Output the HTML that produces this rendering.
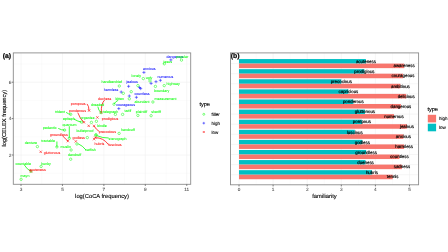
<!DOCTYPE html><html><head><meta charset="utf-8"><title>figure</title>
<style>html,body{margin:0;padding:0;background:#fff}svg{display:block}text{text-rendering:geometricPrecision;font-family:"Liberation Sans",Arial,Helvetica,sans-serif}</style></head><body>
<svg width="448" height="252" viewBox="0 0 448 252">
<rect width="448" height="252" fill="#fff"/>
<g stroke="#efefef" fill="none">
<line x1="41.72" x2="41.72" y1="52.9" y2="184.3" stroke-width="0.27"/>
<line x1="83.16" x2="83.16" y1="52.9" y2="184.3" stroke-width="0.27"/>
<line x1="124.60" x2="124.60" y1="52.9" y2="184.3" stroke-width="0.27"/>
<line x1="166.04" x2="166.04" y1="52.9" y2="184.3" stroke-width="0.27"/>
<line y1="173.20" y2="173.20" x1="13.3" x2="190.7" stroke-width="0.27"/>
<line y1="136.80" y2="136.80" x1="13.3" x2="190.7" stroke-width="0.27"/>
<line y1="100.40" y2="100.40" x1="13.3" x2="190.7" stroke-width="0.27"/>
<line y1="64.00" y2="64.00" x1="13.3" x2="190.7" stroke-width="0.27"/>
<line x1="21.00" x2="21.00" y1="52.9" y2="184.3" stroke-width="0.55"/>
<line x1="62.44" x2="62.44" y1="52.9" y2="184.3" stroke-width="0.55"/>
<line x1="103.88" x2="103.88" y1="52.9" y2="184.3" stroke-width="0.55"/>
<line x1="145.32" x2="145.32" y1="52.9" y2="184.3" stroke-width="0.55"/>
<line x1="186.76" x2="186.76" y1="52.9" y2="184.3" stroke-width="0.55"/>
<line y1="155.00" y2="155.00" x1="13.3" x2="190.7" stroke-width="0.55"/>
<line y1="118.60" y2="118.60" x1="13.3" x2="190.7" stroke-width="0.55"/>
<line y1="82.20" y2="82.20" x1="13.3" x2="190.7" stroke-width="0.55"/>
</g>
<g fill="none" stroke-width="0.75" stroke-linecap="round">
<path d="M117.9,100.4 Q115.5,101.5 114.3,103.6" stroke="#00FF00"/>
<path d="M104.3,100.4 Q101.0,103.5 101.3,112.2" stroke="#FF0000"/>
<path d="M97.9,107.0 Q98.5,111.2 100.9,112.4" stroke="#00FF00"/>
<path d="M87.3,104.2 Q89.0,106.0 89.0,110.2" stroke="#FF0000"/>
<path d="M77.9,113.0 Q80.0,119.0 83.7,122.1" stroke="#FF0000"/>
<path d="M66.4,112.6 Q68.5,114.2 70.3,114.3" stroke="#00FF00"/>
<path d="M74.3,119.3 Q78.0,121.5 81.0,122.0" stroke="#00FF00"/>
<path d="M94.3,126.5 Q96.5,129.8 98.6,131.0" stroke="#FF0000"/>
<path d="M69.3,126.6 L69.3,137.9" stroke="#00FF00"/>
<path d="M58.6,128.6 Q61.5,130.2 64.2,130.1" stroke="#00FF00"/>
<path d="M97.0,135.8 Q103.0,138.2 108.3,138.0" stroke="#00FF00"/>
<path d="M95.6,137.7 Q103.3,137.5 108.3,144.4" stroke="#FF0000"/>
<path d="M62.9,136.1 Q65.5,139.2 67.7,140.9" stroke="#FF0000"/>
<path d="M78.6,144.0 Q82.5,145.5 85.7,149.7" stroke="#00FF00"/>
<path d="M56.9,141.9 L56.9,146.5" stroke="#00FF00"/>
<path d="M24.3,165.0 Q27.0,169.5 30.7,171.2" stroke="#00FF00"/>
</g>
<path d="M169.34,59.9H172.46M170.9,58.34V61.46" fill="none" stroke="#0000FF" stroke-width="0.5"/>
<circle cx="181.5" cy="60.1" r="1.2" fill="none" stroke="#00FF00" stroke-width="0.5"/>
<circle cx="164.3" cy="63.8" r="1.2" fill="none" stroke="#00FF00" stroke-width="0.5"/>
<path d="M142.34,72.4H145.46M143.9,70.84V73.96" fill="none" stroke="#0000FF" stroke-width="0.5"/>
<circle cx="143.3" cy="78.6" r="1.2" fill="none" stroke="#00FF00" stroke-width="0.5"/>
<circle cx="150.0" cy="81.0" r="1.2" fill="none" stroke="#00FF00" stroke-width="0.5"/>
<path d="M158.84,80.3H161.96M160.4,78.74V81.86" fill="none" stroke="#0000FF" stroke-width="0.5"/>
<path d="M154.44,81.7H157.56M156.0,80.14V83.26" fill="none" stroke="#0000FF" stroke-width="0.5"/>
<path d="M149.54,83.4H152.66M151.1,81.84V84.96" fill="none" stroke="#0000FF" stroke-width="0.5"/>
<circle cx="164.2" cy="85.6" r="1.2" fill="none" stroke="#00FF00" stroke-width="0.5"/>
<circle cx="155.4" cy="86.4" r="1.2" fill="none" stroke="#00FF00" stroke-width="0.5"/>
<path d="M127.04,86.3H130.16M128.6,84.74V87.86" fill="none" stroke="#0000FF" stroke-width="0.5"/>
<circle cx="137.9" cy="85.6" r="1.2" fill="none" stroke="#00FF00" stroke-width="0.5"/>
<path d="M139.14,88.6H142.26M140.7,87.04V90.16" fill="none" stroke="#0000FF" stroke-width="0.5"/>
<path d="M138.04,87.5H141.16M139.6,85.94V89.06" fill="none" stroke="#0000FF" stroke-width="0.5"/>
<circle cx="119.3" cy="86.0" r="1.2" fill="none" stroke="#00FF00" stroke-width="0.5"/>
<path d="M119.64,92.0H122.76M121.2,90.44V93.56" fill="none" stroke="#0000FF" stroke-width="0.5"/>
<circle cx="123.3" cy="93.3" r="1.2" fill="none" stroke="#00FF00" stroke-width="0.5"/>
<circle cx="131.2" cy="91.7" r="1.2" fill="none" stroke="#00FF00" stroke-width="0.5"/>
<path d="M127.74,96.0H130.86M129.3,94.44V97.56" fill="none" stroke="#0000FF" stroke-width="0.5"/>
<circle cx="129.3" cy="98.8" r="1.2" fill="none" stroke="#00FF00" stroke-width="0.5"/>
<path d="M134.84,97.3H137.96M136.4,95.74V98.86" fill="none" stroke="#0000FF" stroke-width="0.5"/>
<circle cx="152.9" cy="102.0" r="1.2" fill="none" stroke="#00FF00" stroke-width="0.5"/>
<circle cx="114.0" cy="104.2" r="1.2" fill="none" stroke="#00FF00" stroke-width="0.5"/>
<path d="M117.24,108.6H120.36M118.8,107.04V110.16" fill="none" stroke="#0000FF" stroke-width="0.5"/>
<circle cx="115.4" cy="114.4" r="1.2" fill="none" stroke="#00FF00" stroke-width="0.5"/>
<circle cx="122.6" cy="114.4" r="1.2" fill="none" stroke="#00FF00" stroke-width="0.5"/>
<circle cx="137.9" cy="115.4" r="1.2" fill="none" stroke="#00FF00" stroke-width="0.5"/>
<circle cx="151.1" cy="115.7" r="1.2" fill="none" stroke="#00FF00" stroke-width="0.5"/>
<path d="M99.90,111.40L102.30,113.80M99.90,113.80L102.30,111.40" fill="none" stroke="#FF0000" stroke-width="0.55"/>
<circle cx="101.1" cy="112.6" r="1.2" fill="none" stroke="#00FF00" stroke-width="0.5"/>
<path d="M87.90,109.40L90.30,111.80M87.90,111.80L90.30,109.40" fill="none" stroke="#FF0000" stroke-width="0.55"/>
<path d="M82.70,121.10L85.10,123.50M82.70,123.50L85.10,121.10" fill="none" stroke="#FF0000" stroke-width="0.55"/>
<circle cx="70.7" cy="114.3" r="1.2" fill="none" stroke="#00FF00" stroke-width="0.5"/>
<circle cx="81.4" cy="122.1" r="1.2" fill="none" stroke="#00FF00" stroke-width="0.5"/>
<circle cx="91.4" cy="122.4" r="1.2" fill="none" stroke="#00FF00" stroke-width="0.5"/>
<circle cx="96.4" cy="121.3" r="1.2" fill="none" stroke="#00FF00" stroke-width="0.5"/>
<path d="M96.20,116.20L98.60,118.60M96.20,118.60L98.60,116.20" fill="none" stroke="#FF0000" stroke-width="0.55"/>
<path d="M87.50,124.60L89.90,127.00M87.50,127.00L89.90,124.60" fill="none" stroke="#FF0000" stroke-width="0.55"/>
<path d="M92.80,124.70L95.20,127.10M92.80,127.10L95.20,124.70" fill="none" stroke="#FF0000" stroke-width="0.55"/>
<circle cx="69.3" cy="138.3" r="1.2" fill="none" stroke="#00FF00" stroke-width="0.5"/>
<circle cx="64.6" cy="130.1" r="1.2" fill="none" stroke="#00FF00" stroke-width="0.5"/>
<circle cx="96.0" cy="134.8" r="1.2" fill="none" stroke="#00FF00" stroke-width="0.5"/>
<circle cx="119.1" cy="133.4" r="1.2" fill="none" stroke="#00FF00" stroke-width="0.5"/>
<circle cx="95.9" cy="135.2" r="1.2" fill="none" stroke="#00FF00" stroke-width="0.5"/>
<path d="M92.90,137.90L95.30,140.30M92.90,140.30L95.30,137.90" fill="none" stroke="#FF0000" stroke-width="0.55"/>
<path d="M94.10,136.40L96.50,138.80M94.10,138.80L96.50,136.40" fill="none" stroke="#FF0000" stroke-width="0.55"/>
<circle cx="87.3" cy="137.6" r="1.2" fill="none" stroke="#00FF00" stroke-width="0.5"/>
<path d="M66.70,139.90L69.10,142.30M66.70,142.30L69.10,139.90" fill="none" stroke="#FF0000" stroke-width="0.55"/>
<path d="M74.60,140.20L77.00,142.60M74.60,142.60L77.00,140.20" fill="none" stroke="#FF0000" stroke-width="0.55"/>
<circle cx="76.9" cy="144.0" r="1.2" fill="none" stroke="#00FF00" stroke-width="0.5"/>
<circle cx="56.9" cy="146.9" r="1.2" fill="none" stroke="#00FF00" stroke-width="0.5"/>
<circle cx="71.1" cy="150.0" r="1.2" fill="none" stroke="#00FF00" stroke-width="0.5"/>
<circle cx="37.4" cy="146.6" r="1.2" fill="none" stroke="#00FF00" stroke-width="0.5"/>
<path d="M39.50,150.60L41.90,153.00M39.50,153.00L41.90,150.60" fill="none" stroke="#FF0000" stroke-width="0.55"/>
<circle cx="70.7" cy="159.2" r="1.2" fill="none" stroke="#00FF00" stroke-width="0.5"/>
<circle cx="31.0" cy="171.3" r="1.2" fill="none" stroke="#00FF00" stroke-width="0.5"/>
<circle cx="41.1" cy="166.4" r="1.2" fill="none" stroke="#00FF00" stroke-width="0.5"/>
<path d="M29.90,170.20L32.30,172.60M29.90,172.60L32.30,170.20" fill="none" stroke="#FF0000" stroke-width="0.55"/>
<circle cx="21.1" cy="179.3" r="1.2" fill="none" stroke="#00FF00" stroke-width="0.5"/>
<g font-size="3.6" text-anchor="middle" stroke-width="0.04">
<text x="174.9" y="57.75" fill="#0000FF" stroke="#0000FF">dangerous</text>
<text x="182.3" y="57.75" fill="#00FF00" stroke="#00FF00">popular</text>
<text x="167.8" y="63.35" fill="#00FF00" stroke="#00FF00">jesus</text>
<text x="149.3" y="69.95" fill="#0000FF" stroke="#0000FF">anxious</text>
<text x="136.3" y="76.75" fill="#00FF00" stroke="#00FF00">lonely</text>
<text x="149.1" y="79.25" fill="#00FF00" stroke="#00FF00">ugly</text>
<text x="165.4" y="78.05" fill="#0000FF" stroke="#0000FF">numerous</text>
<text x="173.2" y="84.75" fill="#00FF00" stroke="#00FF00">highway</text>
<text x="161.8" y="91.65" fill="#00FF00" stroke="#00FF00">boundary</text>
<text x="132.2" y="83.35" fill="#0000FF" stroke="#0000FF">jealous</text>
<text x="111.8" y="83.35" fill="#00FF00" stroke="#00FF00">handkerchief</text>
<text x="111.1" y="90.95" fill="#0000FF" stroke="#0000FF">harmless</text>
<text x="142.0" y="95.25" fill="#0000FF" stroke="#0000FF">countless</text>
<text x="165.6" y="99.95" fill="#00FF00" stroke="#00FF00">measurement</text>
<text x="142.1" y="102.95" fill="#00FF00" stroke="#00FF00">abundant</text>
<text x="119.7" y="99.85" fill="#00FF00" stroke="#00FF00">kitten</text>
<text x="125.7" y="106.05" fill="#0000FF" stroke="#0000FF">courageous</text>
<text x="110.7" y="112.55" fill="#00FF00" stroke="#00FF00">telegraph</text>
<text x="127.9" y="112.35" fill="#00FF00" stroke="#00FF00">tariff</text>
<text x="141.5" y="112.55" fill="#00FF00" stroke="#00FF00">plaintiff</text>
<text x="156.1" y="113.45" fill="#00FF00" stroke="#00FF00">sheriff</text>
<text x="104.6" y="99.75" fill="#FF0000" stroke="#FF0000">duchess</text>
<text x="97.7" y="106.15" fill="#00FF00" stroke="#00FF00">dreaded</text>
<text x="78.2" y="105.15" fill="#FF0000" stroke="#FF0000">pompous</text>
<text x="77.5" y="112.05" fill="#FF0000" stroke="#FF0000">ponderous</text>
<text x="60.0" y="113.25" fill="#00FF00" stroke="#00FF00">trident</text>
<text x="68.9" y="119.95" fill="#00FF00" stroke="#00FF00">epitaph</text>
<text x="87.5" y="119.25" fill="#00FF00" stroke="#00FF00">organise</text>
<text x="110.0" y="120.15" fill="#FF0000" stroke="#FF0000">prodigious</text>
<text x="107.4" y="133.15" fill="#FF0000" stroke="#FF0000">precocious</text>
<text x="102.0" y="126.55" fill="#00FF00" stroke="#00FF00">kindle</text>
<text x="69.6" y="126.35" fill="#00FF00" stroke="#00FF00">quantum</text>
<text x="49.8" y="129.35" fill="#00FF00" stroke="#00FF00">pedantic</text>
<text x="85.0" y="132.25" fill="#00FF00" stroke="#00FF00">bulletproof</text>
<text x="127.8" y="131.35" fill="#00FF00" stroke="#00FF00">handcuff</text>
<text x="117.6" y="139.65" fill="#00FF00" stroke="#00FF00">stenograph</text>
<text x="99.4" y="144.75" fill="#FF0000" stroke="#FF0000">hubris</text>
<text x="115.0" y="146.05" fill="#FF0000" stroke="#FF0000">luscious</text>
<text x="58.9" y="135.65" fill="#FF0000" stroke="#FF0000">groundless</text>
<text x="78.6" y="139.25" fill="#FF0000" stroke="#FF0000">godless</text>
<text x="90.5" y="151.35" fill="#00FF00" stroke="#00FF00">catfish</text>
<text x="48.2" y="142.25" fill="#00FF00" stroke="#00FF00">tractable</text>
<text x="65.7" y="147.75" fill="#00FF00" stroke="#00FF00">muslin</text>
<text x="30.9" y="144.35" fill="#00FF00" stroke="#00FF00">denture</text>
<text x="52.1" y="154.35" fill="#FF0000" stroke="#FF0000">gluttonous</text>
<text x="74.6" y="156.45" fill="#00FF00" stroke="#00FF00">dandruff</text>
<text x="23.3" y="165.05" fill="#00FF00" stroke="#00FF00">countable</text>
<text x="46.1" y="165.05" fill="#00FF00" stroke="#00FF00">hunky</text>
<text x="37.5" y="171.05" fill="#FF0000" stroke="#FF0000">acuteness</text>
<text x="25.0" y="177.45" fill="#00FF00" stroke="#00FF00">mayn</text>
</g>
<rect x="13.3" y="52.9" width="177.40" height="131.40" fill="none" stroke="#8c8c8c" stroke-width="0.9"/>
<g stroke="#5a5a5a" stroke-width="0.8">
<line x1="21.00" x2="21.00" y1="184.3" y2="185.9"/>
<line x1="62.44" x2="62.44" y1="184.3" y2="185.9"/>
<line x1="103.88" x2="103.88" y1="184.3" y2="185.9"/>
<line x1="145.32" x2="145.32" y1="184.3" y2="185.9"/>
<line x1="186.76" x2="186.76" y1="184.3" y2="185.9"/>
<line y1="155.00" y2="155.00" x1="11.700000000000001" x2="13.3"/>
<line y1="118.60" y2="118.60" x1="11.700000000000001" x2="13.3"/>
<line y1="82.20" y2="82.20" x1="11.700000000000001" x2="13.3"/>
</g>
<g font-size="4.7" fill="#4d4d4d" stroke="#4d4d4d" stroke-width="0.07">
<text x="21.00" y="191.0" text-anchor="middle">3</text>
<text x="62.44" y="191.0" text-anchor="middle">5</text>
<text x="103.88" y="191.0" text-anchor="middle">7</text>
<text x="145.32" y="191.0" text-anchor="middle">9</text>
<text x="186.76" y="191.0" text-anchor="middle">11</text>
<text x="11.3" y="156.60" text-anchor="end">2</text>
<text x="11.3" y="120.20" text-anchor="end">4</text>
<text x="11.3" y="83.80" text-anchor="end">6</text>
</g>
<text x="102" y="197.6" font-size="5.8" text-anchor="middle" fill="#000" stroke="#000" stroke-width="0.12">log(CoCA frequency)</text>
<text transform="translate(6.3,118.2) rotate(-90)" font-size="5.7" text-anchor="middle" fill="#000" stroke="#000" stroke-width="0.12">log(CELEX frequency)</text>
<text x="2.7" y="58.1" font-size="6.9" font-weight="bold" fill="#000" stroke="#000" stroke-width="0.2">(a)</text>
<text x="199.4" y="105.8" font-size="5.6" fill="#000" stroke="#000" stroke-width="0.12">type</text>
<circle cx="203.8" cy="114.3" r="1.0" fill="none" stroke="#00FF00" stroke-width="0.5"/>
<text x="211.4" y="115.90" font-size="4.5" fill="#000" stroke="#000" stroke-width="0.1">filler</text>
<path d="M202.50,123.15H205.10M203.8,121.85V124.45" fill="none" stroke="#0000FF" stroke-width="0.5"/>
<text x="211.4" y="124.75" font-size="4.5" fill="#000" stroke="#000" stroke-width="0.1">high</text>
<path d="M202.80,131.00L204.80,133.00M202.80,133.00L204.80,131.00" fill="none" stroke="#FF0000" stroke-width="0.55"/>
<text x="211.4" y="133.60" font-size="4.5" fill="#000" stroke="#000" stroke-width="0.1">low</text>
<g stroke="#efefef" fill="none">
<line x1="256.05" x2="256.05" y1="52.9" y2="184.8" stroke-width="0.27"/>
<line x1="290.15" x2="290.15" y1="52.9" y2="184.8" stroke-width="0.27"/>
<line x1="324.25" x2="324.25" y1="52.9" y2="184.8" stroke-width="0.27"/>
<line x1="358.35" x2="358.35" y1="52.9" y2="184.8" stroke-width="0.27"/>
<line x1="392.45" x2="392.45" y1="52.9" y2="184.8" stroke-width="0.27"/>
<line x1="239.00" x2="239.00" y1="52.9" y2="184.8" stroke-width="0.55"/>
<line x1="273.10" x2="273.10" y1="52.9" y2="184.8" stroke-width="0.55"/>
<line x1="307.20" x2="307.20" y1="52.9" y2="184.8" stroke-width="0.55"/>
<line x1="341.30" x2="341.30" y1="52.9" y2="184.8" stroke-width="0.55"/>
<line x1="375.40" x2="375.40" y1="52.9" y2="184.8" stroke-width="0.55"/>
<line x1="409.50" x2="409.50" y1="52.9" y2="184.8" stroke-width="0.55"/>
<line y1="63.60" y2="63.60" x1="230.5" x2="418.6" stroke-width="0.55"/>
<line y1="73.70" y2="73.70" x1="230.5" x2="418.6" stroke-width="0.55"/>
<line y1="83.80" y2="83.80" x1="230.5" x2="418.6" stroke-width="0.55"/>
<line y1="93.90" y2="93.90" x1="230.5" x2="418.6" stroke-width="0.55"/>
<line y1="104.00" y2="104.00" x1="230.5" x2="418.6" stroke-width="0.55"/>
<line y1="114.10" y2="114.10" x1="230.5" x2="418.6" stroke-width="0.55"/>
<line y1="124.20" y2="124.20" x1="230.5" x2="418.6" stroke-width="0.55"/>
<line y1="134.30" y2="134.30" x1="230.5" x2="418.6" stroke-width="0.55"/>
<line y1="144.40" y2="144.40" x1="230.5" x2="418.6" stroke-width="0.55"/>
<line y1="154.50" y2="154.50" x1="230.5" x2="418.6" stroke-width="0.55"/>
<line y1="164.60" y2="164.60" x1="230.5" x2="418.6" stroke-width="0.55"/>
<line y1="174.70" y2="174.70" x1="230.5" x2="418.6" stroke-width="0.55"/>
</g>
<rect x="239" y="59.05" width="126.90" height="4.54" fill="#00BFC4"/>
<rect x="239" y="63.60" width="165.10" height="4.54" fill="#F8766D"/>
<rect x="239" y="69.16" width="125.40" height="4.54" fill="#00BFC4"/>
<rect x="239" y="73.70" width="164.00" height="4.54" fill="#F8766D"/>
<rect x="239" y="79.25" width="102.30" height="4.54" fill="#00BFC4"/>
<rect x="239" y="83.80" width="161.40" height="4.54" fill="#F8766D"/>
<rect x="239" y="89.36" width="109.40" height="4.54" fill="#00BFC4"/>
<rect x="239" y="93.90" width="167.20" height="4.54" fill="#F8766D"/>
<rect x="239" y="99.45" width="114.30" height="4.54" fill="#00BFC4"/>
<rect x="239" y="104.00" width="161.90" height="4.54" fill="#F8766D"/>
<rect x="239" y="109.55" width="125.90" height="4.54" fill="#00BFC4"/>
<rect x="239" y="114.10" width="155.00" height="4.54" fill="#F8766D"/>
<rect x="239" y="119.66" width="122.90" height="4.54" fill="#00BFC4"/>
<rect x="239" y="124.20" width="167.90" height="4.54" fill="#F8766D"/>
<rect x="239" y="129.76" width="115.80" height="4.54" fill="#00BFC4"/>
<rect x="239" y="134.30" width="164.40" height="4.54" fill="#F8766D"/>
<rect x="239" y="139.85" width="123.30" height="4.54" fill="#00BFC4"/>
<rect x="239" y="144.40" width="165.10" height="4.54" fill="#F8766D"/>
<rect x="239" y="149.96" width="127.10" height="4.54" fill="#00BFC4"/>
<rect x="239" y="154.50" width="160.40" height="4.54" fill="#F8766D"/>
<rect x="239" y="160.06" width="126.50" height="4.54" fill="#00BFC4"/>
<rect x="239" y="164.60" width="162.90" height="4.54" fill="#F8766D"/>
<rect x="239" y="170.16" width="132.90" height="4.54" fill="#00BFC4"/>
<rect x="239" y="174.70" width="153.70" height="4.54" fill="#F8766D"/>
<g font-size="4.4" text-anchor="middle" fill="#000" stroke="#000" stroke-width="0.16">
<text x="365.9" y="62.83">acuteness</text>
<text x="404.1" y="67.37">awareness</text>
<text x="364.4" y="72.93">prodigious</text>
<text x="403.0" y="77.47">courageous</text>
<text x="341.3" y="83.03">precocious</text>
<text x="400.4" y="87.57">ambitious</text>
<text x="348.4" y="93.13">capricious</text>
<text x="406.2" y="97.67">delicious</text>
<text x="353.3" y="103.23">ponderous</text>
<text x="400.9" y="107.77">dangerous</text>
<text x="364.9" y="113.33">gluttonous</text>
<text x="394.0" y="117.87">numerous</text>
<text x="361.9" y="123.43">pompous</text>
<text x="406.9" y="127.97">jealous</text>
<text x="354.8" y="133.53">luscious</text>
<text x="403.4" y="138.07">anxious</text>
<text x="362.3" y="143.63">godless</text>
<text x="404.1" y="148.17">harmless</text>
<text x="366.1" y="153.73">groundless</text>
<text x="399.4" y="158.27">countless</text>
<text x="365.5" y="163.83">dueness</text>
<text x="401.9" y="168.37">sadness</text>
<text x="371.9" y="173.93">hubris</text>
<text x="392.7" y="178.47">tennis</text>
</g>
<rect x="230.5" y="52.9" width="188.10" height="131.90" fill="none" stroke="#8c8c8c" stroke-width="0.9"/>
<g stroke="#5a5a5a" stroke-width="0.8">
<line x1="239.00" x2="239.00" y1="184.8" y2="186.4"/>
<line x1="273.10" x2="273.10" y1="184.8" y2="186.4"/>
<line x1="307.20" x2="307.20" y1="184.8" y2="186.4"/>
<line x1="341.30" x2="341.30" y1="184.8" y2="186.4"/>
<line x1="375.40" x2="375.40" y1="184.8" y2="186.4"/>
<line x1="409.50" x2="409.50" y1="184.8" y2="186.4"/>
</g>
<g font-size="4.7" fill="#4d4d4d" stroke="#4d4d4d" stroke-width="0.07" text-anchor="middle">
<text x="239.00" y="191.3">0</text>
<text x="273.10" y="191.3">1</text>
<text x="307.20" y="191.3">2</text>
<text x="341.30" y="191.3">3</text>
<text x="375.40" y="191.3">4</text>
<text x="409.50" y="191.3">5</text>
</g>
<text x="324.5" y="197.6" font-size="5.8" text-anchor="middle" fill="#000" stroke="#000" stroke-width="0.12">familiarity</text>
<text x="230.7" y="58.1" font-size="6.9" font-weight="bold" fill="#000" stroke="#000" stroke-width="0.2">(b)</text>
<text x="427.4" y="110.5" font-size="5.6" fill="#000" stroke="#000" stroke-width="0.12">type</text>
<rect x="427.8" y="114.8" width="8.3" height="7.6" fill="#F8766D"/>
<rect x="427.8" y="123.7" width="8.3" height="7.6" fill="#00BFC4"/>
<text x="439.1" y="120.2" font-size="4.5" fill="#000" stroke="#000" stroke-width="0.1">high</text>
<text x="439.1" y="129.1" font-size="4.5" fill="#000" stroke="#000" stroke-width="0.1">low</text>
</svg></body></html>
